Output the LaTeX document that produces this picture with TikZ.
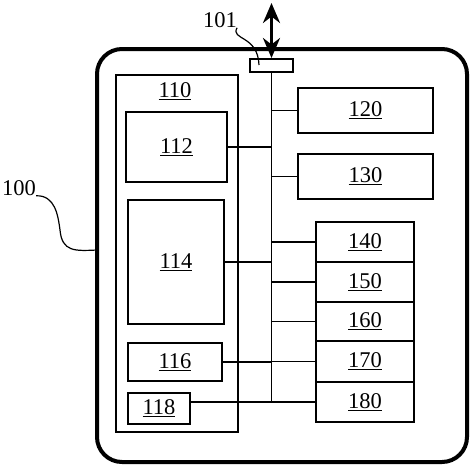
\documentclass[tikz,border=0pt]{standalone}
\usepackage{fontspec}
\setmainfont{Liberation Serif}
\usetikzlibrary{arrows.meta}

\begin{document}
\begin{tikzpicture}[x=1pt,y=-1pt]

\tikzset{box/.style = {shape=rectangle,draw,line width=2.5pt,inner sep=0pt,font=\fontsize{22.5}{24}\selectfont}}
\tikzset{txt/.style = {inner sep=0pt,font=\fontsize{22.5}{24}\selectfont}}
\tikzset{wire/.style = {-,line width=1.5pt}}
\tikzset{lead/.style = {-,line width=1.2pt}}
\tikzset{io/.style = {line width=3.2pt,{Stealth[length=20pt,width=17pt]}-{Stealth[length=20pt,width=17pt]}}}

\useasboundingbox (0,0) rectangle (474,467);

\node[box,line width=4pt,rounded corners=25pt,minimum width=370pt,minimum height=413pt] (dev) at (282,255.5) {};
\node[box,minimum width=122pt,minimum height=357pt] (b110) at (177,253.5) {};
\node[txt] (t110) at (175,91) {\underline{110}};
\node[box,minimum width=101pt,minimum height=70pt] (b112) at (176.5,147) {\underline{112}};
\node[box,minimum width=96pt,minimum height=124pt] (b114) at (176,262) {\underline{114}};
\node[box,minimum width=94pt,minimum height=38pt] (b116) at (175,362) {\underline{116}};
\node[box,minimum width=62pt,minimum height=31pt] (b118) at (159,408.5) {\underline{118}};
\node[box,line width=2pt,minimum width=43pt,minimum height=13pt] (b101) at (271.5,65.5) {};
\node[box,minimum width=135pt,minimum height=45pt] (b120) at (365.5,110.5) {\underline{120}};
\node[box,minimum width=135pt,minimum height=45pt] (b130) at (365.5,176.5) {\underline{130}};
\node[box,minimum width=98pt,minimum height=40pt] (b140) at (365,242) {\underline{140}};
\node[box,minimum width=98pt,minimum height=40pt] (b150) at (365,282) {\underline{150}};
\node[box,minimum width=98pt,minimum height=39pt] (b160) at (365,321.5) {\underline{160}};
\node[box,minimum width=98pt,minimum height=41pt] (b170) at (365,361.5) {\underline{170}};
\node[box,minimum width=98pt,minimum height=40pt] (b180) at (365,402) {\underline{180}};

\node[txt] (l100) at (19,188) {100};
\node[txt] (l101) at (220,20) {101};
\coordinate (e100) at (97,250);
\coordinate (e101) at (259,65);
\coordinate (ant) at (271.5,3);

%edges
\draw[io] (ant) -- (b101.north);
\draw[wire] (b101.south) -- (b180.west -| b101.south);
\draw[wire] (b112.east) -- (b112.east -| b101.south);
\draw[wire] (b114.east) -- (b114.east -| b101.south);
\draw[wire] (b116.east) -- (b116.east -| b101.south);
\draw[wire] (b180.west -| b118.east) -- (b180.west -| b101.south);
\draw[wire] (b120.west -| b101.south) -- (b120.west);
\draw[wire] (b130.west -| b101.south) -- (b130.west);
\draw[wire] (b140.west -| b101.south) -- (b140.west);
\draw[wire] (b150.west -| b101.south) -- (b150.west);
\draw[wire] (b160.west -| b101.south) -- (b160.west);
\draw[wire] (b170.west -| b101.south) -- (b170.west);
\draw[wire] (b180.west -| b101.south) -- (b180.west);

%leaders
\draw[lead] (l100.south east) .. controls (55,195) and (58,215) .. (60,230) .. controls (62,252) and (75,251) .. (e100);
\draw[lead] (l101.south east) .. controls (230,40) and (258,35) .. (e101);
\end{tikzpicture}
\end{document}
